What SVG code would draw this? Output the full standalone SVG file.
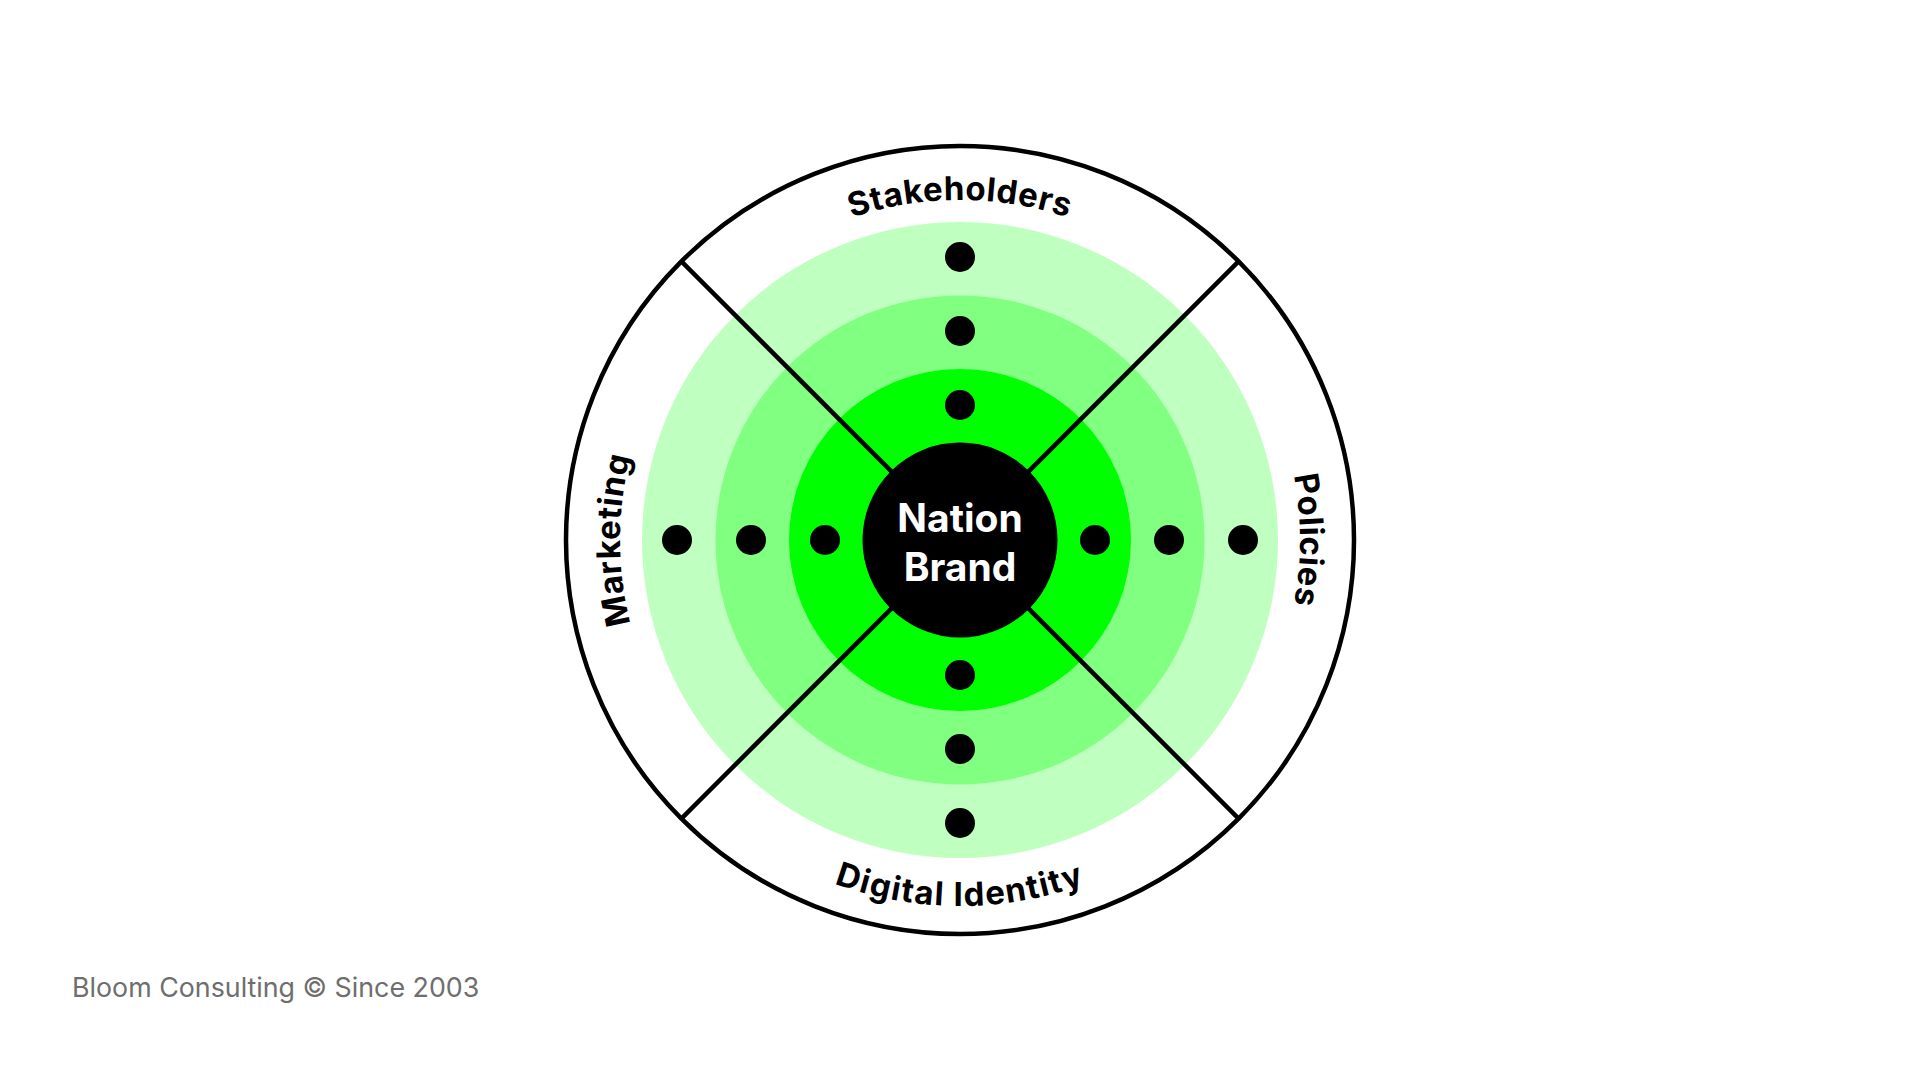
<svg xmlns="http://www.w3.org/2000/svg" width="1920" height="1080" viewBox="0 0 1920 1080">
<style>
.lbl{font-family:Inter,"Noto Sans","DejaVu Sans",sans-serif;font-weight:700;font-size:33px;fill:#000;letter-spacing:0.6px}
.wide{letter-spacing:1.4px}
.dot{fill:#000}
.conn{stroke:#000;stroke-width:4.5;fill:none}
.center-text{font-family:Inter,"Noto Sans","DejaVu Sans",sans-serif;font-weight:700;font-size:39px;fill:#fff}
.foot{font-family:Inter,"Noto Sans","DejaVu Sans",sans-serif;font-weight:400;font-size:26.8px;fill:#6e6e6e}
</style>
<defs>
<path id="pTop" d="M 620 540 A 340 340 0 0 1 1300 540"/>
<path id="pLeft" d="M 960 880 A 340 340 0 0 1 960 200"/>
<path id="pRight" d="M 960 200 A 340 340 0 0 1 960 880"/>
<path id="pBottom" d="M 594 540 A 366 366 0 0 0 1326 540"/>
</defs>
<rect width="1920" height="1080" fill="#fff"/>
<g id="outer-ring">
<circle cx="960" cy="540" r="394" fill="#fff" stroke="#000" stroke-width="4.5"/>
</g>
<g id="ring-3">
<circle cx="960" cy="540" r="318" fill="#bfffbf"/>
</g>
<g id="ring-2">
<circle cx="960" cy="540" r="244.5" fill="#80ff80"/>
</g>
<g id="ring-1">
<circle cx="960" cy="540" r="171" fill="#00ff00"/>
</g>
<g id="connectors">
<line class="conn" x1="681.4" y1="261.4" x2="1238.6" y2="818.6"/>
<line class="conn" x1="1238.6" y1="261.4" x2="681.4" y2="818.6"/>
</g>
<g id="dots">
<circle class="dot" cx="960" cy="257" r="15"/>
<circle class="dot" cx="960" cy="331" r="15"/>
<circle class="dot" cx="960" cy="405" r="15"/>
<circle class="dot" cx="960" cy="675" r="15"/>
<circle class="dot" cx="960" cy="749" r="15"/>
<circle class="dot" cx="960" cy="823" r="15"/>
<circle class="dot" cx="677" cy="540" r="15"/>
<circle class="dot" cx="751" cy="540" r="15"/>
<circle class="dot" cx="825" cy="540" r="15"/>
<circle class="dot" cx="1095" cy="540" r="15"/>
<circle class="dot" cx="1169" cy="540" r="15"/>
<circle class="dot" cx="1243" cy="540" r="15"/>
</g>
<g id="nation-brand">
<circle cx="960" cy="540" r="97.5" fill="#000"/>
<text class="center-text" x="960" y="532" text-anchor="middle">Nation</text>
<text class="center-text" x="960" y="581" text-anchor="middle">Brand</text>
</g>
<g id="label-stakeholders">
<text class="lbl"><textPath href="#pTop" startOffset="50%" text-anchor="middle">Stakeholders</textPath></text>
</g>
<g id="label-marketing">
<text class="lbl"><textPath href="#pLeft" startOffset="50%" text-anchor="middle">Marketing</textPath></text>
</g>
<g id="label-policies">
<text class="lbl"><textPath href="#pRight" startOffset="50%" text-anchor="middle">Policies</textPath></text>
</g>
<g id="label-digital-identity">
<text class="lbl wide"><textPath href="#pBottom" startOffset="50%" text-anchor="middle">Digital Identity</textPath></text>
</g>
<g id="footer">
<text class="foot" x="72" y="997">Bloom Consulting © Since 2003</text>
</g>
</svg>
